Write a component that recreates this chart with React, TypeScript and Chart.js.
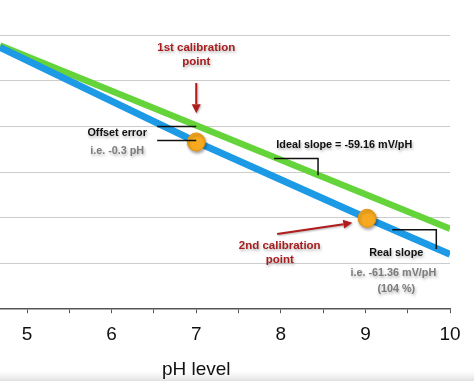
import React, { useEffect, useRef } from "react";
import { Chart, registerables } from "chart.js";

Chart.register(...registerables);

// ---- data ----
const phMin = 4.68;
const phMax = 10;
const idealPh = [4.68, 10];
const idealMv = [5.77, 1.76];
const realPh = [4.68, 7, 9.02, 10];
const realMv = [5.73, 3.66, 1.99, 1.2];
const calibPh = [7, 9.02];
const calibMv = [3.66, 1.99];
const yMin = 0;
const yMax = 6;
const xTickLabels = [5, 6, 7, 8, 9, 10];
const xTitle = "pH level";

// annotation texts (position in data units)
const texts = [
  { t: "1st calibration", x: 7.0, y: 5.71, c: "#a81d1d", s: 11.5 },
  { t: "point", x: 7.0, y: 5.41, c: "#a81d1d", s: 11.5 },
  { t: "Offset error", x: 6.065, y: 3.85, c: "#111", s: 10.8 },
  { t: "i.e. -0.3 pH", x: 6.065, y: 3.47, c: "#7d7d7d", s: 10.8 },
  { t: "Ideal slope = -59.16 mV/pH", x: 8.75, y: 3.6, c: "#111", s: 10.8 },
  { t: "2nd calibration", x: 7.987, y: 1.385, c: "#a81d1d", s: 11.5 },
  { t: "point", x: 7.987, y: 1.077, c: "#a81d1d", s: 11.5 },
  { t: "Real slope", x: 9.365, y: 1.23, c: "#111", s: 10.8 },
  { t: "i.e. -61.36 mV/pH", x: 9.33, y: 0.79, c: "#7d7d7d", s: 10.8 },
  { t: "(104 %)", x: 9.365, y: 0.44, c: "#7d7d7d", s: 10.8 },
];
// black guide lines (polylines in data units)
const guides = [
  [[6.538, 4.0], [7.0, 4.0]],
  [[6.538, 3.69], [7.0, 3.69]],
  [[7.92, 3.3], [8.44, 3.3], [8.44, 2.93]],
  [[9.318, 1.736], [9.838, 1.736], [9.838, 1.32]],
];
// red arrows [from, to]
const arrows = [
  [[7.0, 4.95], [7.0, 4.29]],
  [[7.957, 1.648], [8.845, 1.89]],
];

const FONT = "'Liberation Sans', Arial, Helvetica, sans-serif";

const annotationPlugin = {
  id: "annot",
  beforeDraw(chart: any) {
    const { ctx, width, height } = chart;
    ctx.save();
    ctx.fillStyle = "#fff";
    ctx.fillRect(0, 0, width, height);
    const g = ctx.createLinearGradient(0, height - 10, 0, height);
    g.addColorStop(0, "rgba(235,235,235,0)");
    g.addColorStop(1, "rgba(225,225,225,1)");
    ctx.fillStyle = g;
    ctx.fillRect(0, height - 10, width, 10);
    ctx.restore();
  },
  beforeDatasetDraw(chart: any, args: any) {
    if (args.index === 0) {
      const ctx = chart.ctx;
      ctx.save();
      ctx.shadowColor = "rgba(0,0,0,0.35)";
      ctx.shadowBlur = 3;
      ctx.shadowOffsetX = 1;
      ctx.shadowOffsetY = 2;
    }
  },
  afterDatasetDraw(chart: any, args: any) {
    if (args.index === 0) chart.ctx.restore();
  },
  afterDraw(chart: any) {
    const { ctx } = chart;
    const xs = chart.scales.x;
    const ys = chart.scales.y;
    const px = (v: number) => xs.getPixelForValue(v);
    const py = (v: number) => ys.getPixelForValue(v);
    ctx.save();
    // guides
    ctx.strokeStyle = "#111";
    ctx.lineWidth = 1.5;
    guides.forEach((g) => {
      ctx.beginPath();
      g.forEach((p, i) => {
        if (i === 0) ctx.moveTo(px(p[0]), py(p[1]));
        else ctx.lineTo(px(p[0]), py(p[1]));
      });
      ctx.stroke();
    });
    // arrows
    ctx.strokeStyle = "#b01c1c";
    ctx.fillStyle = "#b01c1c";
    ctx.lineWidth = 2;
    ctx.shadowColor = "rgba(0,0,0,0.3)";
    ctx.shadowBlur = 2;
    ctx.shadowOffsetX = 1;
    ctx.shadowOffsetY = 1;
    arrows.forEach(([a, b]) => {
      const x1 = px(a[0]), y1 = py(a[1]), x2 = px(b[0]), y2 = py(b[1]);
      const ang = Math.atan2(y2 - y1, x2 - x1);
      const hl = 9, hw = 4.5;
      const bx = x2 - hl * Math.cos(ang), by = y2 - hl * Math.sin(ang);
      ctx.beginPath();
      ctx.moveTo(x1, y1);
      ctx.lineTo(bx, by);
      ctx.stroke();
      ctx.beginPath();
      ctx.moveTo(x2, y2);
      ctx.lineTo(bx + hw * Math.sin(ang), by - hw * Math.cos(ang));
      ctx.lineTo(bx - hw * Math.sin(ang), by + hw * Math.cos(ang));
      ctx.closePath();
      ctx.fill();
    });
    // texts
    ctx.textAlign = "center";
    ctx.textBaseline = "middle";
    ctx.shadowColor = "rgba(0,0,0,0.3)";
    ctx.shadowBlur = 3;
    ctx.shadowOffsetX = 1;
    ctx.shadowOffsetY = 2;
    texts.forEach((t) => {
      ctx.font = `bold ${t.s}px ${FONT}`;
      ctx.fillStyle = t.c;
      ctx.fillText(t.t, px(t.x), py(t.y));
    });
    ctx.shadowColor = "transparent";
    // axis title
    ctx.font = `19px ${FONT}`;
    ctx.fillStyle = "#111";
    ctx.fillText(xTitle, px(7), xs.top + 61);
    ctx.restore();
  },
};

export default function App() {
  const ref = useRef<HTMLCanvasElement | null>(null);
  useEffect(() => {
    if (!ref.current) return;
    const chart = new Chart(ref.current, {
      type: "line",
      data: {
        datasets: [
          {
            label: "calibration",
            data: calibPh.map((x, i) => ({ x, y: calibMv[i] })),
            showLine: false,
            pointRadius: 9,
            pointBackgroundColor: "#f7a91f",
            pointBorderColor: "#e8930e",
            pointBorderWidth: 1,
          },
          {
            label: "real",
            data: realPh.map((x, i) => ({ x, y: realMv[i] })),
            borderColor: "#1c9ae6",
            borderWidth: 7,
            pointRadius: 0,
            tension: 0,
            borderCapStyle: "butt",
          },
          {
            label: "ideal",
            data: idealPh.map((x, i) => ({ x, y: idealMv[i] })),
            borderColor: "#64d43a",
            borderWidth: 6.5,
            pointRadius: 0,
            tension: 0,
            borderCapStyle: "butt",
          },
        ],
      },
      options: {
        animation: false,
        responsive: false,
        devicePixelRatio: 1,
        layout: { autoPadding: false, padding: { top: 35, right: 24, left: 0, bottom: 25 } },
        plugins: { legend: { display: false }, tooltip: { enabled: false } },
        scales: {
          x: {
            type: "linear",
            min: phMin,
            max: phMax,
            border: { display: true, color: "#555", width: 1.5 },
            grid: {
              drawOnChartArea: false,
              drawTicks: true,
              tickLength: 4,
              color: "#555",
            },
            ticks: {
              stepSize: 0.5,
              includeBounds: false,
              autoSkip: false,
              maxRotation: 0,
              padding: 10,
              color: "#111",
              font: { family: FONT, size: 19 },
              callback: (v: any) =>
                xTickLabels.includes(Number(v)) ? String(v) : "",
            },
          },
          y: {
            type: "linear",
            min: yMin,
            max: yMax,
            border: { display: false },
            afterFit: (s: any) => {
              s.width = 0;
            },
            grid: {
              drawTicks: false,
              color: (c: any) => (c.tick && c.tick.value === 0 ? "rgba(0,0,0,0)" : "#cccccc"),
              lineWidth: 1,
            },
            ticks: { display: false, stepSize: 1 },
          },
        },
      },
      plugins: [annotationPlugin],
    } as any);
    return () => chart.destroy();
  }, []);
  return (
    <div style={{ position: "absolute", left: 0, top: 0, width: 474, height: 381 }}>
      <canvas ref={ref} width={474} height={381} style={{ display: "block" }} />
    </div>
  );
}
